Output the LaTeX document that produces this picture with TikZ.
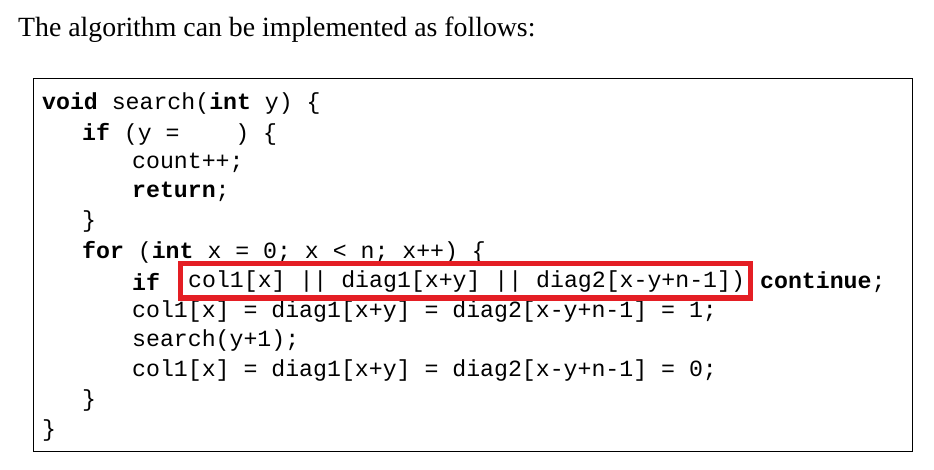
\documentclass[tikz,border=0pt]{standalone}
\usepackage{fontspec}
\setmainfont{Liberation Serif}
\setmonofont{Liberation Mono}
\begin{document}
\begin{tikzpicture}[x=1pt,y=-1pt,
  code/.style={anchor=west,inner sep=0pt,yshift=-2pt,font=\fontsize{23.2}{23}\selectfont\ttfamily},
  hl/.style={draw={rgb,255:red,228;green,30;blue,36},line width=5pt}]
\useasboundingbox (0,0) rectangle (934,470);
\node[anchor=base west,inner sep=0pt,font=\fontsize{27.8}{28}\selectfont] (title) at (18,37) {The algorithm can be implemented as follows:};
\draw[line width=1pt] (33,79) rectangle (912,451);
\node[code] (l1) at (42,102) {\textbf{void} search(\textbf{int} y) \{};
\node[code] (l2) at (82,132) {\textbf{if} (y =\ \ \ \ ) \{};
\node[code] (l3) at (132,161) {count++;};
\node[code] (l4) at (132,190) {\textbf{return};};
\node[code] (l5) at (82,220) {\}};
\node[code] (l6) at (82,250) {\textbf{for} (\textbf{int} x = 0; x < n; x++) \{};
\node[code] (l7) at (132,280) {\textbf{if}};
\node[code] (l7b) at (188,280) {col1[x] || diag1[x+y] || diag2[x-y+n-1])};
\node[code] (l7c) at (760,280) {\textbf{continue};};
\node[code] (l8) at (132,310) {col1[x] = diag1[x+y] = diag2[x-y+n-1] = 1;};
\node[code] (l9) at (132,339) {search(y+1);};
\node[code] (l10) at (132,369) {col1[x] = diag1[x+y] = diag2[x-y+n-1] = 0;};
\node[code] (l11) at (82,399) {\}};
\node[code] (l12) at (42,428) {\}};
\draw[hl] (180,264) rectangle (750,298);
\end{tikzpicture}
\end{document}
